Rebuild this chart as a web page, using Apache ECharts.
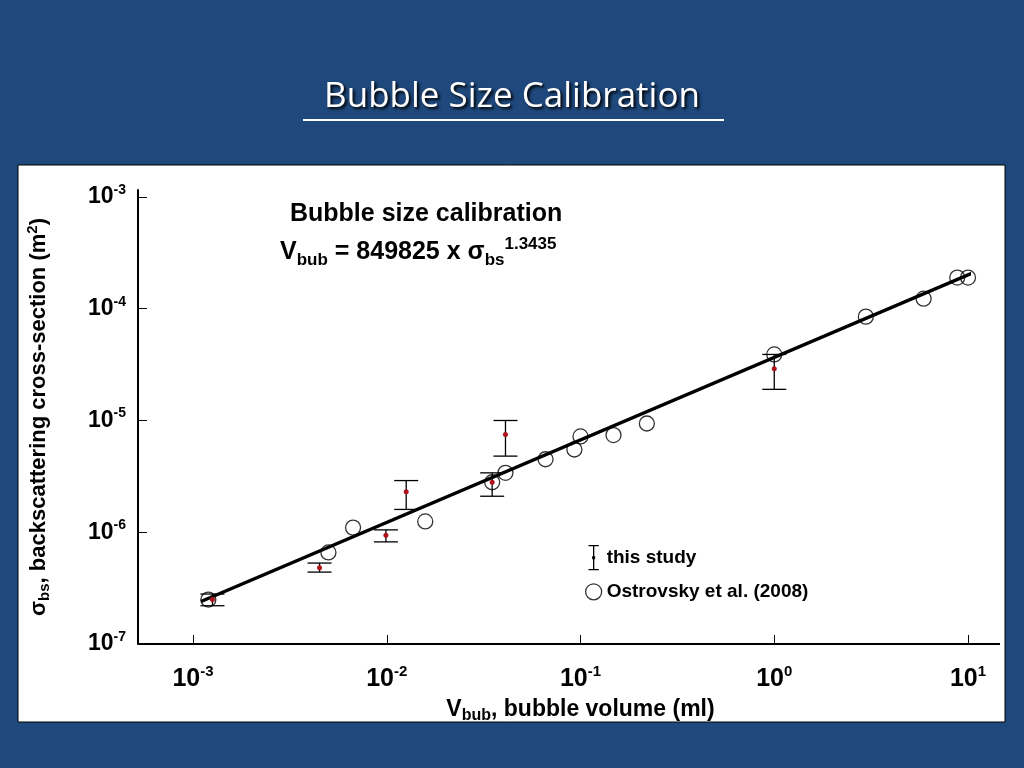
<!DOCTYPE html>
<html><head><meta charset="utf-8">
<script src="https://cdn.jsdelivr.net/npm/echarts@6/dist/echarts.min.js"></script>
<style>html,body{margin:0;padding:0;background:#1f487c;}#c{width:1024px;height:768px;}</style>
</head><body><div id="c"></div>
<script>
// this study: volume (ml), sigma (m^2), error low, error high
const studyX = [1.26e-3, 4.5e-3, 9.9e-3, 1.26e-2, 0.035, 0.041, 1.0];
const studyY = [2.5e-7, 4.8e-7, 9.4e-7, 2.3e-6, 2.8e-6, 7.5e-6, 2.9e-5];
const studyLo = [2.2e-7, 4.4e-7, 8.2e-7, 1.6e-6, 2.1e-6, 4.8e-6, 1.9e-5];
const studyHi = [2.8e-7, 5.3e-7, 1.05e-6, 2.9e-6, 3.4e-6, 1.0e-5, 3.9e-5];
// Ostrovsky et al. (2008)
const ostX = [1.2e-3, 5.0e-3, 6.7e-3, 0.0158, 0.035, 0.041, 0.066, 0.093, 0.1, 0.148, 0.22, 1.0, 2.97, 5.9, 8.8, 10];
const ostY = [2.5e-7, 6.6e-7, 1.1e-6, 1.25e-6, 2.8e-6, 3.4e-6, 4.5e-6, 5.5e-6, 7.2e-6, 7.4e-6, 9.4e-6, 3.9e-5, 8.5e-5, 1.23e-4, 1.9e-4, 1.9e-4];
// fit line endpoints
const fitX = [1.1e-3, 12];
const fitY = [2.4e-7, 2.3e-4];

const L = Math.log10;
const chart = echarts.init(document.getElementById('c'));
const lab = v => {
  if (Math.abs(v - Math.round(v)) > 1e-6) return '';
  return '{b|10}{s|' + Math.round(v) + '}';
};
const rich = {b:{fontSize:23,fontWeight:'bold',color:'#000',fontFamily:'Liberation Sans'},
  s:{fontSize:14,fontWeight:'bold',color:'#000',fontFamily:'Liberation Sans',verticalAlign:'top',padding:[0,0,14,0]}};
const richX = {b:{fontSize:25,fontWeight:'bold',color:'#000',fontFamily:'Liberation Sans'},
  s:{fontSize:15,fontWeight:'bold',color:'#000',fontFamily:'Liberation Sans',verticalAlign:'top',padding:[0,0,15,0]}};
chart.setOption({
  backgroundColor:'#1f487c',
  animation:false,
  title:{text:'Bubble Size Calibration',left:'center',top:75,
    textStyle:{color:'#fff',fontSize:35,fontWeight:'normal',fontFamily:'Open Sans',textShadowColor:'#000',textShadowBlur:3,textShadowOffsetX:2,textShadowOffsetY:2}},
  graphic:[
    {type:'rect',z:-1,shape:{x:18,y:165,width:987,height:557},style:{fill:'#fff',stroke:'#000',lineWidth:1}},
    {type:'line',z:10,shape:{x1:303,y1:120,x2:724,y2:120},style:{stroke:'#fff',lineWidth:2}},
    {type:'line',z:10,shape:{x1:138,y1:644,x2:194,y2:644},style:{stroke:'#000',lineWidth:2}},
    {type:'line',z:10,shape:{x1:967,y1:644,x2:1000,y2:644},style:{stroke:'#000',lineWidth:2}},
    {type:'text',z:10,left:290,top:202,style:{text:'Bubble size calibration',font:'bold 25px Liberation Sans',fill:'#000'}},
    {type:'text',z:10,left:280,top:236,style:{rich:{a:{fontSize:25,fontWeight:'bold',fontFamily:'Liberation Sans'},
       sb:{fontSize:17,fontWeight:'bold',fontFamily:'Liberation Sans',verticalAlign:'bottom',padding:[14,0,0,0]},
       sp:{fontSize:17,fontWeight:'bold',fontFamily:'Liberation Sans',verticalAlign:'top',padding:[0,0,16,0]}},
       text:'{a|V}{sb|bub}{a| = 849825 x σ}{sb|bs}{sp|1.3435}'}}
  ],
  grid:{left:193,right:56,top:190,bottom:124},
  xAxis:{type:'value',min:-3,max:1,interval:1,
    axisLine:{onZero:false,lineStyle:{color:'#000',width:2}},axisTick:{inside:true,length:9,lineStyle:{color:'#000'}},
    splitLine:{show:false},axisLabel:{formatter:lab,rich:richX,margin:20},
    name:'{b|V}{u|bub}{b|, bubble volume (ml)}',nameLocation:'middle',nameGap:52,
    nameTextStyle:{rich:{b:{fontSize:23,fontWeight:'bold',fontFamily:'Liberation Sans',color:'#000'},
      u:{fontSize:16,fontWeight:'bold',fontFamily:'Liberation Sans',color:'#000',verticalAlign:'bottom',padding:[12,0,0,0]}}}},
  yAxis:{type:'value',min:-7,max:-3+7/112,interval:1,offset:55,
    axisLine:{onZero:false,lineStyle:{color:'#000',width:2}},axisTick:{inside:true,length:9,lineStyle:{color:'#000'}},
    splitLine:{show:false},axisLabel:{formatter:lab,rich:rich,margin:12,showMaxLabel:false},
    name:'{b|σ}{u|bs}{b|, backscattering cross-section (m}{p|2}{b|)}',nameLocation:'middle',nameGap:86,
    nameTextStyle:{rich:{b:{fontSize:22,fontWeight:'bold',fontFamily:'Liberation Sans',color:'#000'},
      u:{fontSize:15,fontWeight:'bold',fontFamily:'Liberation Sans',color:'#000',verticalAlign:'bottom',padding:[12,0,0,0]},
      p:{fontSize:15,fontWeight:'bold',fontFamily:'Liberation Sans',color:'#000',verticalAlign:'top',padding:[0,0,12,0]}}}},
  legend:{orient:'vertical',left:580,top:540,itemGap:12,itemWidth:16,itemHeight:24,
    textStyle:{fontSize:19,fontWeight:'bold',fontFamily:'Liberation Sans',color:'#000'},
    data:[{name:'this study',icon:'path://M0,0H12M6,0V28M0,28H12M5,13H7V15H5Z',itemStyle:{color:'#fff',borderColor:'#000',borderWidth:1.3}},
          {name:'Ostrovsky et al. (2008)',icon:'path://M0,12A7,7 0 1 1 14,12A7,7 0 1 1 0,12Z',itemStyle:{color:'#fff',borderColor:'#000',borderWidth:1.3}}]},
  series:[
    {name:'fit',type:'line',clip:false,data:fitX.map((x,i)=>[L(x),L(fitY[i])]),symbol:'none',lineStyle:{color:'#000',width:3.5},z:3},
    {name:'Ostrovsky et al. (2008)',type:'scatter',data:ostX.map((x,i)=>[L(x),L(ostY[i])]),symbol:'circle',symbolSize:15,clip:false,
      itemStyle:{color:'rgba(255,255,255,0)',borderColor:'#000',borderWidth:1.3},z:4},
    {name:'this study',type:'custom',z:5,clip:false,
      data:studyX.map((x,i)=>[L(x),L(studyY[i]),L(studyLo[i]),L(studyHi[i])]),
      renderItem:(p,api)=>{
        const c=api.coord([api.value(0),api.value(1)]);
        const lo=api.coord([api.value(0),api.value(2)]);
        const hi=api.coord([api.value(0),api.value(3)]);
        const w=12, st={stroke:'#000',lineWidth:1.3};
        return {type:'group',children:[
          {type:'line',shape:{x1:c[0],y1:lo[1],x2:c[0],y2:hi[1]},style:st},
          {type:'line',shape:{x1:c[0]-w,y1:lo[1],x2:c[0]+w,y2:lo[1]},style:st},
          {type:'line',shape:{x1:c[0]-w,y1:hi[1],x2:c[0]+w,y2:hi[1]},style:st},
          {type:'circle',shape:{cx:c[0],cy:c[1],r:2.5},style:{fill:'#b0121b'}}
        ]};
      },itemStyle:{color:'#000'}}
  ]
});
</script></body></html>
